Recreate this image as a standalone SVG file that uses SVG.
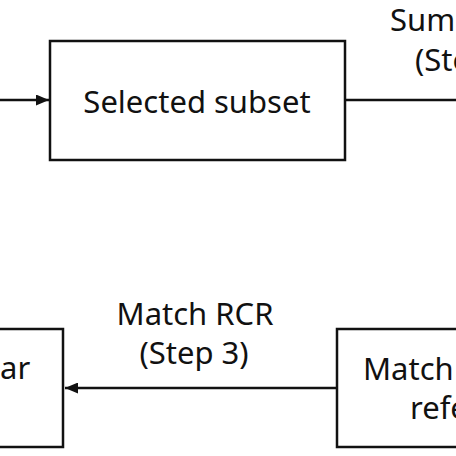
<svg xmlns="http://www.w3.org/2000/svg" width="456" height="456" viewBox="0 0 456 456">
<style>
.box{fill:#fff;stroke:#111;stroke-width:2.5}
.ln{fill:none;stroke:#111;stroke-width:2.5}
text{font-family:"Noto Sans","Open Sans",sans-serif;font-size:31px;fill:#111}
</style>
<defs>
<marker id="ah" markerWidth="13" markerHeight="11" refX="13" refY="5.5" orient="auto" markerUnits="userSpaceOnUse">
<path d="M0,0 L13,5.5 L0,11 Z" fill="#111"/>
</marker>
</defs>
<rect width="456" height="456" fill="#fff"/>
<g id="connectors">
<line class="ln" x1="0" y1="100" x2="49" y2="100" marker-end="url(#ah)"/>
<line class="ln" x1="346" y1="100" x2="456" y2="100"/>
<line class="ln" x1="336" y1="388" x2="65" y2="388" marker-end="url(#ah)"/>
<text x="390" y="31">Sum</text>
<text x="415" y="71">(Ste</text>
<text x="195" y="325" text-anchor="middle">Match RCR</text>
<text x="194" y="364" text-anchor="middle">(Step 3)</text>
</g>
<g id="node-selected">
<rect class="box" x="50" y="41" width="295" height="119"/>
<text x="197" y="113" text-anchor="middle">Selected subset</text>
</g>
<g id="node-left">
<rect class="box" x="-10" y="329" width="73" height="118"/>
<text x="0" y="379">ar</text>
</g>
<g id="node-match">
<rect class="box" x="337" y="329" width="130" height="118"/>
<text x="363" y="380">Match</text>
<text x="410" y="419">refe</text>
</g>
</svg>
